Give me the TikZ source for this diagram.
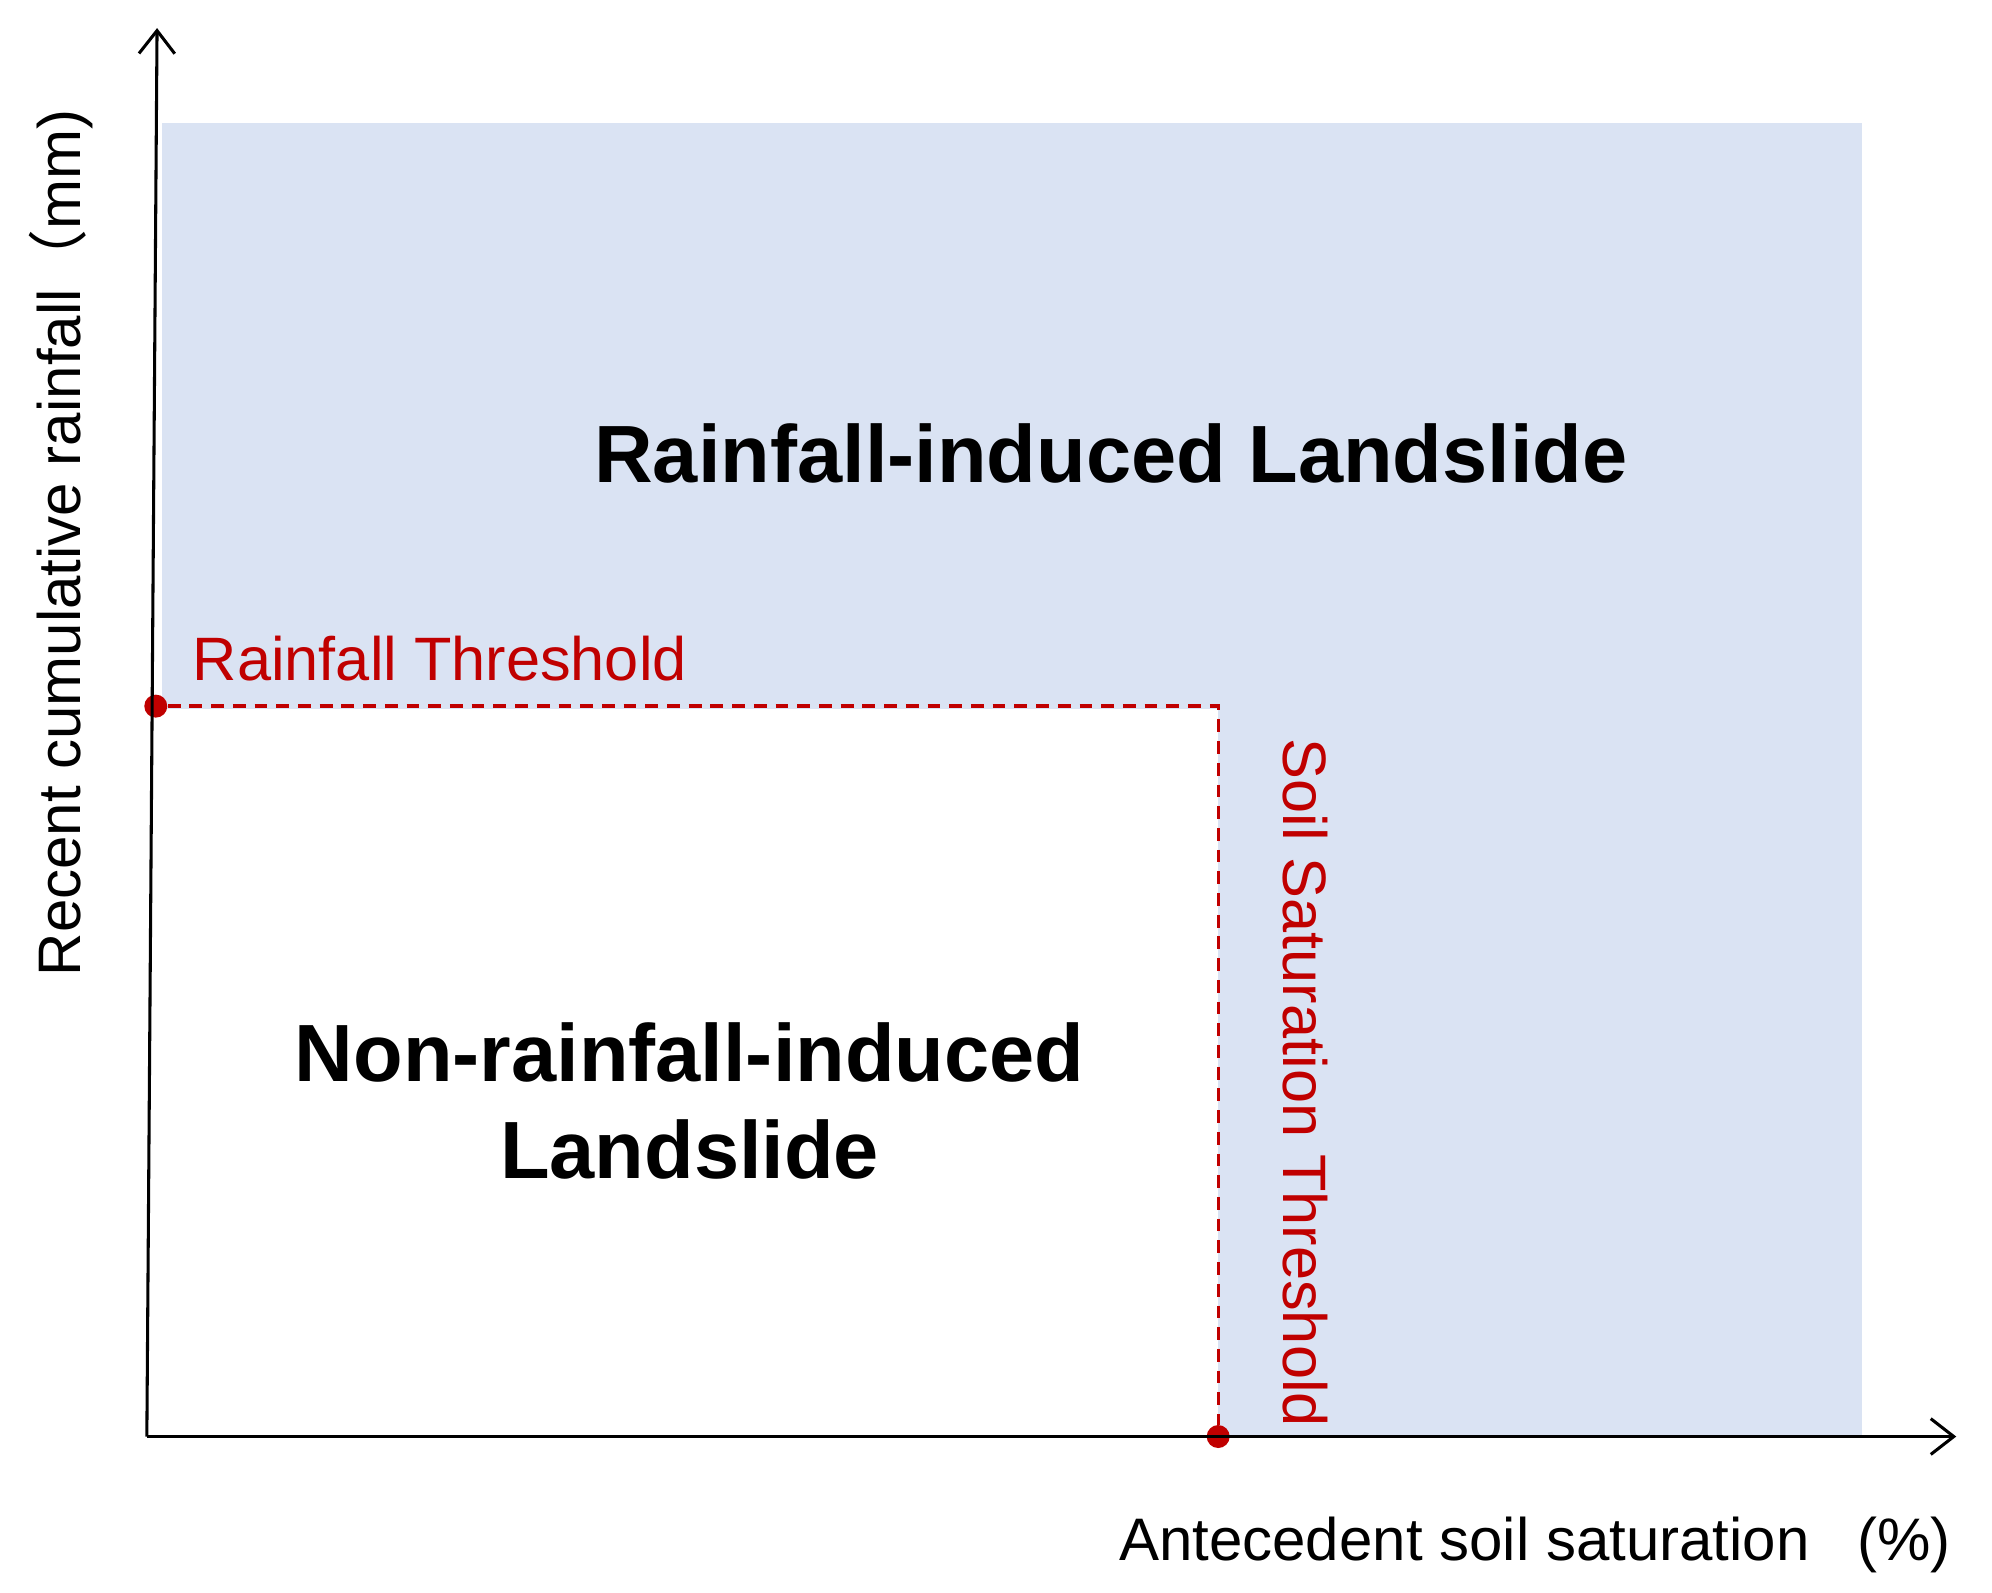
\documentclass[tikz,border=0pt]{standalone}
\usepackage{fontspec}
\setmainfont{Liberation Sans}
\newfontfamily\cjkfont{Noto Sans CJK SC}
\usetikzlibrary{arrows.meta}
\definecolor{bluefill}{HTML}{DAE3F3}
\definecolor{thred}{HTML}{C00000}
\begin{document}
\begin{tikzpicture}[x=0.5pt,y=-0.5pt,
  axis/.style={line width=1.2pt,-{Straight Barb[length=9pt,width=14pt]}},
  thr/.style={thred,line width=1.3pt,dash pattern=on 5pt off 3.5pt},
  big/.style={font=\fontsize{31.8}{36}\selectfont\bfseries,align=center},
  lab/.style={font=\fontsize{23.5}{27}\selectfont},
  rlab/.style={font=\fontsize{24}{27}\selectfont,text=thred},
  dot/.style={circle,fill=thred,inner sep=0pt,minimum size=9pt}]
\useasboundingbox (0,0) rectangle (1560,1247);
\fill[bluefill] (127,96) rectangle (1458,1125);
\fill[white] (116,555) rectangle (954,1125);
\coordinate (o) at (115,1125);
\coordinate (ytop) at (123,22);
\coordinate (xend) at (1532,1125);
\node[dot] (p1) at (122,553) {};
\node[dot] (p2) at (954,1125) {};
\coordinate (c) at (954,553);
\draw[thr] (p1) -- (c) -- (p2);
\draw[axis] (o) -- (ytop);
\draw[axis] (o) -- (xend);
\node[big] (t1) at (870,355) {Rainfall-induced Landslide};
\node[big] (t2) at (540,862) {Non-rainfall-induced\\[2pt]Landslide};
\node[rlab,anchor=west] (t3) at (144,516) {Rainfall Threshold};
\node[rlab,rotate=-90] (t4) at (1022,848) {Soil Saturation Threshold};
\node[lab,rotate=90] (t5) at (48,425) {Recent cumulative rainfall{\cjkfont （}mm)};
\node[lab,anchor=east] (t6) at (1535,1210) {Antecedent soil saturation\hspace{0.8em}(\%)};
\end{tikzpicture}
\end{document}
